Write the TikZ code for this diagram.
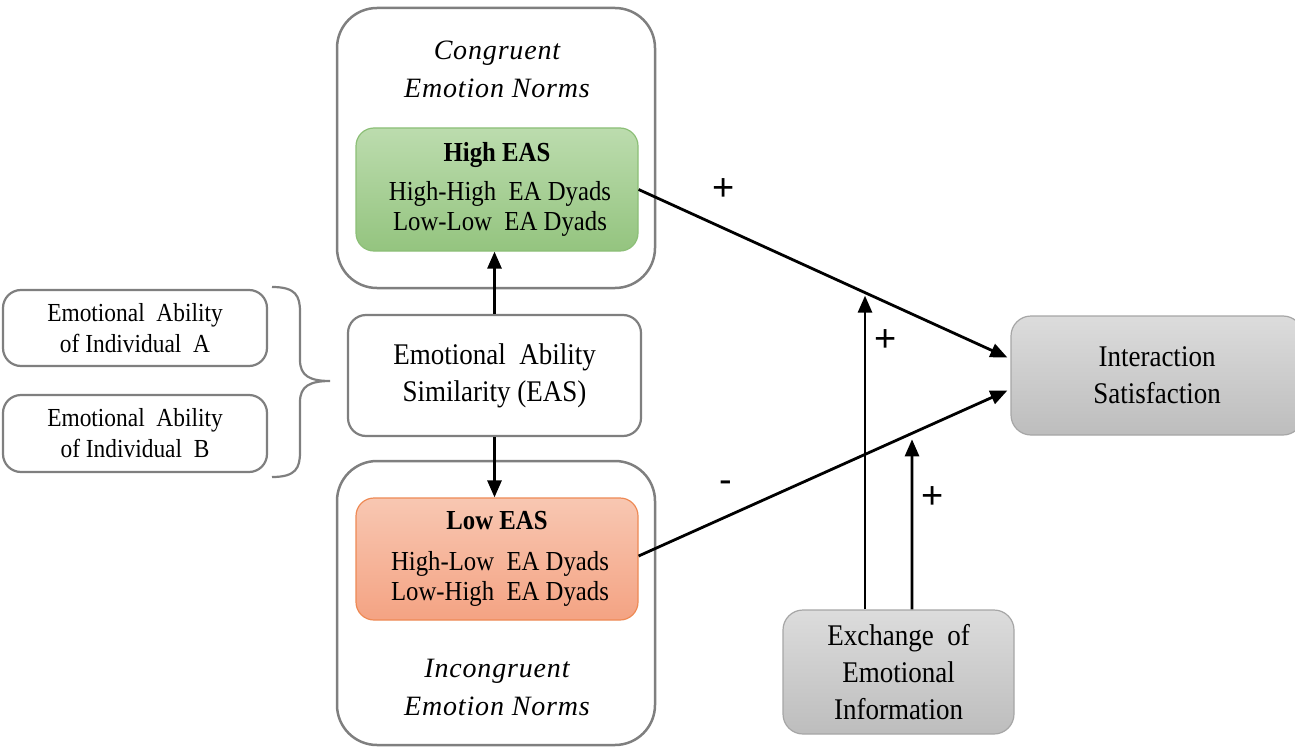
\documentclass[tikz,border=0pt]{standalone}
\usepackage{fontspec}
\setmainfont{Liberation Serif}
\newfontfamily\condfont{Liberation Serif}[FakeStretch=0.9]
\newfontfamily\itfont{Liberation Serif}[LetterSpace=3]
\newfontfamily\plusfont{Liberation Sans}
\usetikzlibrary{arrows.meta,calc}
\definecolor{gtop}{HTML}{BCDCAE}
\definecolor{gbot}{HTML}{94C47F}
\definecolor{gbrd}{HTML}{8CBF77}
\definecolor{otop}{HTML}{F8C7B2}
\definecolor{obot}{HTML}{F4A383}
\definecolor{obrd}{HTML}{EE8A55}
\definecolor{ytop}{HTML}{DCDCDC}
\definecolor{ybot}{HTML}{BDBDBD}
\definecolor{ybrd}{HTML}{A6A6A6}
\definecolor{frame}{HTML}{7F7F7F}
\begin{document}
\begin{tikzpicture}[x=1pt,y=-1pt,
  outerbox/.style={draw=frame,line width=2.5pt,rounded corners=40pt,fill=white},
  whitebox/.style={draw=frame,line width=2.2pt,rounded corners=18pt,fill=white,align=center},
  greenbox/.style={draw=gbrd,line width=1.2pt,rounded corners=18pt,top color=gtop,bottom color=gbot,align=center},
  orangebox/.style={draw=obrd,line width=1.2pt,rounded corners=18pt,top color=otop,bottom color=obot,align=center},
  graybox/.style={draw=ybrd,line width=1.2pt,rounded corners=20pt,top color=ytop,bottom color=ybot,align=center},
  bigtxt/.style={font=\condfont\fontsize{30}{37}\selectfont},
  midtxt/.style={font=\condfont\fontsize{27.5}{30}\selectfont},
  smalltxt/.style={font=\condfont\fontsize{26}{31}\selectfont},
  itxt/.style={align=center,font=\itfont\fontsize{28}{38}\selectfont\itshape},
  conn/.style={line width=2.8pt,-{Triangle[length=17pt,width=14pt]}},
  sign/.style={font=\fontsize{38}{38}\selectfont\plusfont}
]
\useasboundingbox (0,0) rectangle (1295,749);

% outer frames
\node[outerbox,minimum width=318,minimum height=280] (cong) at (496,148) {};
\node[outerbox,minimum width=318,minimum height=284] (incong) at (496,603) {};
\node[itxt] (congt) at (497,69) {Congruent\\Emotion Norms};
\node[itxt] (incongt) at (497,687) {Incongruent\\Emotion Norms};

% inner boxes
\node[greenbox,midtxt,minimum width=282,minimum height=123] (high) at (497,189.5)
  {\textbf{High EAS}\\[9pt]\hspace*{6pt}High-High\ \ EA Dyads\\\hspace*{6pt}Low-Low\ \ EA Dyads};
\node[orangebox,midtxt,minimum width=282,minimum height=122] (low) at (497,559)
  {\textbf{Low EAS}\\[11pt]\hspace*{6pt}High-Low\ \ EA Dyads\\\hspace*{6pt}Low-High\ \ EA Dyads};

% EAS
\node[whitebox,bigtxt,minimum width=293,minimum height=121] (eas) at (494.5,375.5)
  {Emotional\ \ Ability\\Similarity (EAS)};

% individuals
\node[whitebox,smalltxt,minimum width=264,minimum height=76] (inda) at (135,328)
  {Emotional\ \ Ability\\of Individual\ \ A};
\node[whitebox,smalltxt,minimum width=264,minimum height=77] (indb) at (135,433.5)
  {Emotional\ \ Ability\\of Individual\ \ B};

% brace
\draw[frame,line width=2.2pt] (272,287) .. controls (296,287) and (300,296) .. (300,312)
  -- (300,360) .. controls (300,376) and (310,381) .. (330,381)
  .. controls (310,381) and (300,386) .. (300,402)
  -- (300,452) .. controls (300,468) and (296,477) .. (272,477);

% outcome and moderator
\node[graybox,bigtxt,minimum width=292,minimum height=119] (inter) at (1157,375.5)
  {Interaction\\Satisfaction};
\node[graybox,bigtxt,minimum width=231,minimum height=124] (exch) at (898.5,672)
  {Exchange\ \ of\\Emotional\\Information};

% arrows from EAS
\draw[conn] (eas.north) -- (eas.north |- high.south);
\draw[conn] (eas.south) -- (eas.south |- low.north);

% main paths
\coordinate (upin) at ($(inter.west)+(-3,-18)$);
\coordinate (loin) at ($(inter.west)+(-3,15)$);
\coordinate (lostart) at ($(low.east)+(0,-3)$);
\draw[conn] (high.east) -- (upin);
\draw[conn] (lostart) -- (loin);

% moderation arrows
\coordinate (m1b) at ($(exch.north)+(-33.5,0)$);
\coordinate (m2b) at ($(exch.north)+(13.5,0)$);
\coordinate (m1t) at (intersection of high.east--upin and m1b--{$(m1b)+(0,-400)$});
\coordinate (m2t) at (intersection of lostart--loin and m2b--{$(m2b)+(0,-400)$});
\draw[conn,shorten >=3pt] (m1b) -- (m1t);
\draw[conn,shorten >=6pt] (m2b) -- (m2t);

% signs
\node[sign] (s1) at (724,190) {+};
\node[sign] (s2) at (886,341) {+};
\node[sign] (s3) at (933,498) {+};
\node[sign] (s4) at (726,487) {-};
\end{tikzpicture}
\end{document}
